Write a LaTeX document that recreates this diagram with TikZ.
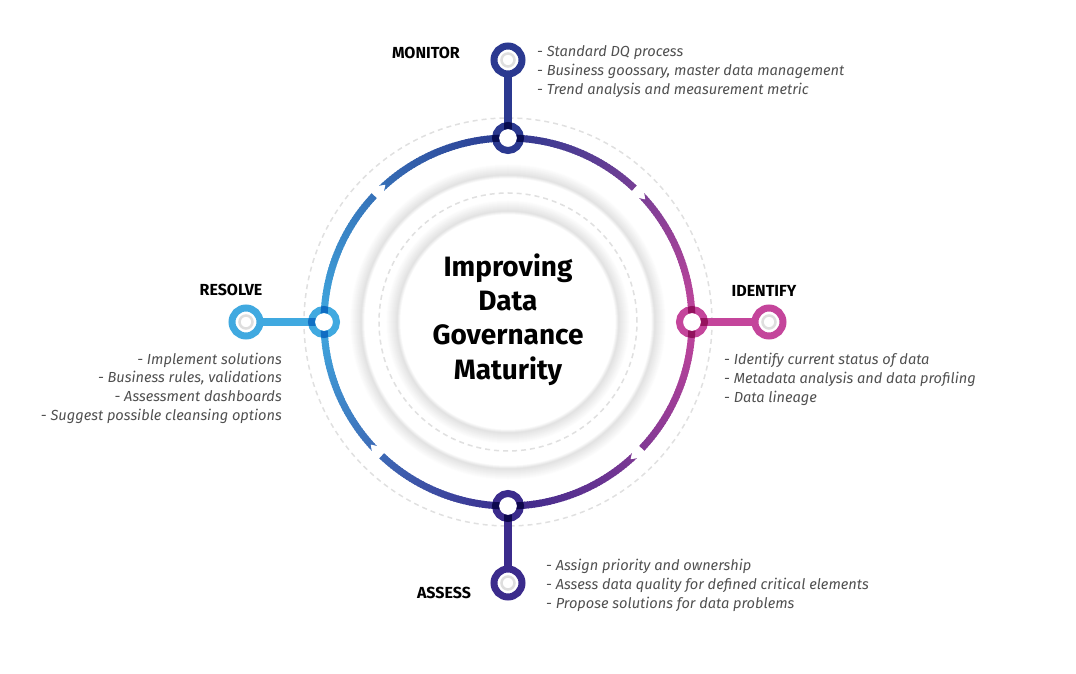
\documentclass[tikz,border=0pt]{standalone}
\usepackage{fontspec}
\setmainfont{Fira Sans}
\definecolor{cT}{HTML}{2B3990}
\definecolor{cR}{HTML}{C4459B}
\definecolor{cB}{HTML}{3B2B8C}
\definecolor{cL}{HTML}{40A9E0}
\definecolor{dashgray}{HTML}{E0E0E0}
\definecolor{txtgray}{HTML}{505050}
\definecolor{innergray}{HTML}{DEDEDE}
\tikzset{
  descr/.style={font=\fontsize{14.6}{19}\selectfont\itshape, text=txtgray, align=left, inner sep=0pt},
  descrR/.style={font=\fontsize{14.6}{18.7}\selectfont\itshape, text=txtgray, align=right, inner sep=0pt},
  heading/.style={font=\fontsize{16}{18}\selectfont\bfseries, text=black, inner sep=0pt},
  ringdot/.style={circle, draw=#1, line width=7pt, minimum size=25pt, inner sep=0pt},
  enddot/.style={circle, draw=#1, fill=white, line width=7pt, minimum size=28pt, inner sep=0pt},
  innerdot/.style={circle, draw=innergray, fill=white, line width=2.5pt, minimum size=13pt, inner sep=0pt},
  spoke/.style={draw=#1, line width=8pt},
  dashring/.style={draw=dashgray, line width=1.5pt, dash pattern=on 5pt off 4pt},
}
\begin{document}
\begin{tikzpicture}[x=1pt,y=1pt]
\useasboundingbox (-508,-352) rectangle (568,322);
% soft shadow bands (filled disks from outside in)
\foreach \i in {0,...,105}{
  \pgfmathsetmacro\r{160-\i*0.5}
  \pgfmathsetmacro\ba{\r<147 ? max(0,1-(147-\r)/3.5) : max(0,1-(\r-147)/11)}
  \pgfmathsetmacro\bb{\r<111 ? max(0,1-(111-\r)/3.5) : max(0,1-(\r-111)/11)}
  \pgfmathsetmacro\v{11*max(\ba,\bb)}
  \fill[black!\v!white] (0,0) circle[radius=\r];
}
% dashed circles
\draw[dashring] (0,0) circle[radius=204];
\draw[dashring] (0,0) circle[radius=129];
% gradient ring
\foreach \q/\ca/\cb in {0/cR/cT, 90/cT/cL, 180/cL/cB, 270/cB/cR}{
  \foreach \i in {0,...,89}{
    \pgfmathtruncatemacro\p{round(\i/90*100)}
    \colorlet{tmpc}{\cb!\p!\ca}
    \draw[tmpc, line width=7pt, line cap=butt] (\q+\i:184) arc[start angle=\q+\i, end angle=\q+\i+1.4, radius=184];
  }
}
% gaps with notches (flow clockwise)
\foreach \a in {45,135,225,315}{
  \fill[white] (\a+1.6:177) -- (\a+1.6:191) -- (\a-1.6:191) -- (\a-1.6:187.6) -- (\a-3.2:184) -- (\a-1.6:180.4) -- (\a-1.6:177) -- cycle;
}
% spokes
\coordinate (nT) at (0,184);
\coordinate (nR) at (184,0);
\coordinate (nB) at (0,-184);
\coordinate (nL) at (-184,0);
\coordinate (eT) at (0,262);
\coordinate (eR) at (261,0);
\coordinate (eB) at (0,-261);
\coordinate (eL) at (-262,0);
\draw[spoke=cT] (nT) -- (eT);
\draw[spoke=cR] (nR) -- (eR);
\draw[spoke=cB] (nB) -- (eB);
\draw[spoke=cL] (nL) -- (eL);
% ring node holes
\foreach \n in {nT,nR,nB,nL}{ \fill[white] (\n) circle[radius=9]; }
\begin{scope}[blend mode=multiply]
\node[ringdot=cT] (rT) at (nT) {};
\node[ringdot=cR] (rR) at (nR) {};
\node[ringdot=cB] (rB) at (nB) {};
\node[ringdot=cL] (rL) at (nL) {};
\end{scope}
% end nodes
\node[enddot=cT] (dT) at (eT) {};
\node[enddot=cR] (dR) at (eR) {};
\node[enddot=cB] (dB) at (eB) {};
\node[enddot=cL] (dL) at (eL) {};
\foreach \n in {dT,dR,dB,dL}{ \node[innerdot] at (\n) {}; }
% title
\node[font=\fontsize{28}{34.3}\selectfont\bfseries, align=center, inner sep=0pt] (title) at (0,2.5) {Improving\\Data\\Governance\\Maturity};
% headings
\node[heading, anchor=east] (hM) at (-48,269) {MONITOR};
\node[heading] (hR) at (-277,32) {RESOLVE};
\node[heading] (hI) at (256,31) {IDENTIFY};
\node[heading] (hA) at (-64,-271) {ASSESS};
% descriptions
\node[descr, anchor=west] (tM) at (29,250) {- Standard DQ process\\- Business goossary, master data management\\- Trend analysis and measurement metric};
\node[descr, anchor=west] (tI) at (216,-57) {- Identify current status of data\\- Metadata analysis and data profiling\\- Data lineage};
\node[descrR, anchor=east] (tR) at (-226,-66) {- Implement solutions\\- Business rules, validations\\- Assessment dashboards\\- Suggest possible cleansing options};
\node[descr, anchor=west] (tA) at (38,-263) {- Assign priority and ownership\\- Assess data quality for defined critical elements\\- Propose solutions for data problems};
\end{tikzpicture}
\end{document}
